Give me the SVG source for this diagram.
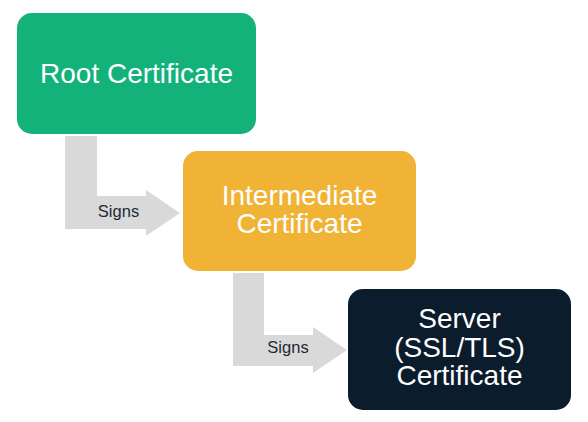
<svg xmlns="http://www.w3.org/2000/svg" width="588" height="422" viewBox="0 0 588 422">
<style>
.box-text{font-family:"Liberation Sans",Arial,sans-serif;font-size:28px;fill:#ffffff;text-anchor:middle}
.lbl{font-family:"Liberation Sans",Arial,sans-serif;font-size:16.5px;fill:#1f2a36;text-anchor:middle}
.arrow{fill:#d9d9d9}
</style>
<rect width="588" height="422" fill="#ffffff"/>
<g id="connectors">
<path class="arrow" d="M65,136 L97,136 L97,196 L146,196 L146,190 L180,213 L146,236 L146,229 L65,229 Z"/>
<text class="lbl" x="118.5" y="217">Signs</text>
<path class="arrow" d="M233,273 L264,273 L264,335 L313,335 L313,327 L347,350 L313,373 L313,366 L233,366 Z"/>
<text class="lbl" x="288" y="353">Signs</text>
</g>
<g id="root">
<rect x="17" y="13" width="239" height="121" rx="15" fill="#12b27a"/>
<text class="box-text" x="136.5" y="83">Root Certificate</text>
</g>
<g id="intermediate">
<rect x="183" y="151" width="233" height="120" rx="15" fill="#f0b336"/>
<text class="box-text" x="299.5" y="205">Intermediate</text>
<text class="box-text" x="299.5" y="233">Certificate</text>
</g>
<g id="server">
<rect x="348" y="289" width="223" height="121" rx="15" fill="#0b1c2c"/>
<text class="box-text" x="459.5" y="328">Server</text>
<text class="box-text" x="459.5" y="357">(SSL/TLS)</text>
<text class="box-text" x="459.5" y="385">Certificate</text>
</g>
</svg>
